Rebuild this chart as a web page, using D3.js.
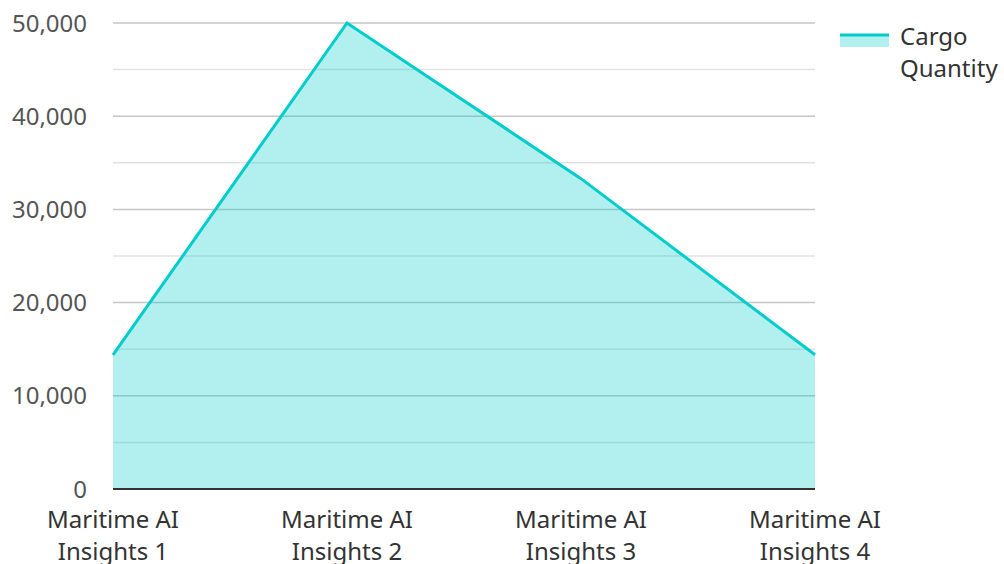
<!DOCTYPE html>
<html>
<head>
<meta charset="utf-8">
<script src="https://cdn.jsdelivr.net/npm/d3@7"></script>
<style>
  html, body { margin: 0; padding: 0; background: #fff; }
  svg { display: block; font-family: "Noto Sans", "Open Sans", sans-serif; }
</style>
</head>
<body>
<svg id="chart" width="1004" height="564"></svg>
<script>
// Cargo quantity per insight report
const categories = ["Maritime AI Insights 1", "Maritime AI Insights 2", "Maritime AI Insights 3", "Maritime AI Insights 4"];
const cargoQuantity = [14400, 50000, 33300, 14400];
const majorTicks = [0, 10000, 20000, 30000, 40000, 50000];
const minorTicks = [5000, 15000, 25000, 35000, 45000];
const seriesName = "Cargo Quantity";

const svg = d3.select("#chart");
const plotLeft = 113, plotRight = 815, plotTop = 23, plotBottom = 489;
const fontSize = 24;

const x = d3.scalePoint().domain(categories).range([plotLeft, plotRight]);
const y = d3.scaleLinear().domain([0, 50000]).range([plotBottom, plotTop]);

// gridlines
svg.append("g").selectAll("line").data(minorTicks).join("line")
  .attr("x1", plotLeft).attr("x2", plotRight)
  .attr("y1", d => y(d)).attr("y2", d => y(d))
  .attr("stroke", "#e3e3e3").attr("stroke-width", 1.5);
svg.append("g").selectAll("line").data(majorTicks.filter(d => d > 0)).join("line")
  .attr("x1", plotLeft).attr("x2", plotRight)
  .attr("y1", d => y(d)).attr("y2", d => y(d))
  .attr("stroke", "#c6c6c6").attr("stroke-width", 1.5);

const data = categories.map((c, i) => ({ c, v: cargoQuantity[i] }));

// area + outline
svg.append("path").datum(data)
  .attr("d", d3.area().x(d => x(d.c)).y0(y(0)).y1(d => y(d.v)))
  .attr("fill", "#00cccc").attr("fill-opacity", 0.3);
svg.append("path").datum(data)
  .attr("d", d3.line().x(d => x(d.c)).y(d => y(d.v)))
  .attr("fill", "none").attr("stroke", "#00cccc").attr("stroke-width", 3);

// baseline
svg.append("line")
  .attr("x1", plotLeft).attr("x2", plotRight)
  .attr("y1", y(0)).attr("y2", y(0))
  .attr("stroke", "#333").attr("stroke-width", 2);

// y tick labels
const fmt = d3.format(",");
svg.append("g").selectAll("text").data(majorTicks).join("text")
  .attr("x", 87).attr("y", d => y(d) + 8.5)
  .attr("text-anchor", "end")
  .attr("font-size", fontSize).attr("fill", "#555")
  .text(d => fmt(d));

// x tick labels (two lines)
const xl = svg.append("g").selectAll("text").data(categories).join("text")
  .attr("text-anchor", "middle")
  .attr("font-size", fontSize).attr("fill", "#333");
xl.each(function(d) {
  const m = d.match(/^(.*AI) (.*)$/);
  const t = d3.select(this);
  t.append("tspan").attr("x", x(d)).attr("y", 528).text(m[1]);
  t.append("tspan").attr("x", x(d)).attr("y", 560).text(m[2]);
});

// legend
const lg = svg.append("g");
lg.append("rect").attr("x", 840).attr("y", 34).attr("width", 49).attr("height", 13)
  .attr("fill", "#00cccc").attr("fill-opacity", 0.3);
lg.append("line").attr("x1", 840).attr("x2", 889).attr("y1", 35).attr("y2", 35)
  .attr("stroke", "#00cccc").attr("stroke-width", 3);
const words = seriesName.split(" ");
lg.append("text").attr("font-size", fontSize).attr("fill", "#333")
  .selectAll("tspan").data(words).join("tspan")
  .attr("x", 900).attr("y", (d, i) => 45 + i * 32).text(d => d);
</script>
</body>
</html>
